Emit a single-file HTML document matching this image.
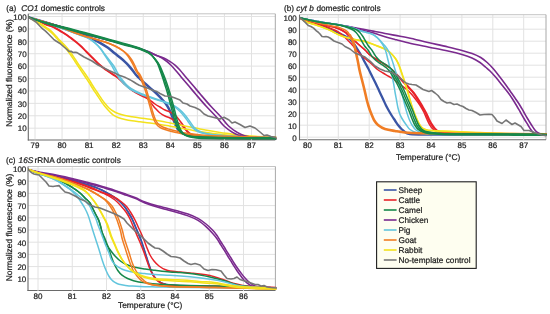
<!DOCTYPE html>
<html><head><meta charset="utf-8"><style>
html,body{margin:0;padding:0;background:#fff;width:550px;height:314px;overflow:hidden}
svg{display:block;text-rendering:geometricPrecision}
.g{stroke:#e2e2e2;stroke-width:1}
.ft{stroke:#c4c4c4;stroke-width:1}
.fr{stroke:#a8a8a8;stroke-width:1}
.ax{stroke:#6a6a6a;stroke-width:1.1}
text{font-family:'Liberation Sans', Arial, sans-serif;fill:#1e1e1e;stroke:#1e1e1e;stroke-width:0.22px}
.tk{font-size:8px}
.ti{font-size:8.25px}
.it{font-style:italic}
.yt{font-size:8.4px}
.tg{stroke:#d8d8d8;stroke-width:1}
</style></head><body>
<svg width="550" height="314" viewBox="0 0 550 314">
<defs><clipPath id="clipa"><rect x="28.3" y="10.8" width="248.0" height="129.2"/></clipPath><clipPath id="clipb"><rect x="299.5" y="11.7" width="247.5" height="127.99999999999999"/></clipPath><clipPath id="clipc"><rect x="28.0" y="163.5" width="248.39999999999998" height="127.0"/></clipPath></defs>
<line x1="35.00" y1="13.80" x2="35.00" y2="140.00" class="g"/>
<line x1="62.06" y1="13.80" x2="62.06" y2="140.00" class="g"/>
<line x1="89.12" y1="13.80" x2="89.12" y2="140.00" class="g"/>
<line x1="116.18" y1="13.80" x2="116.18" y2="140.00" class="g"/>
<line x1="143.24" y1="13.80" x2="143.24" y2="140.00" class="g"/>
<line x1="170.30" y1="13.80" x2="170.30" y2="140.00" class="g"/>
<line x1="197.36" y1="13.80" x2="197.36" y2="140.00" class="g"/>
<line x1="224.42" y1="13.80" x2="224.42" y2="140.00" class="g"/>
<line x1="251.48" y1="13.80" x2="251.48" y2="140.00" class="g"/>
<line x1="28.30" y1="128.19" x2="275.30" y2="128.19" class="g"/>
<line x1="28.30" y1="115.78" x2="275.30" y2="115.78" class="g"/>
<line x1="28.30" y1="103.37" x2="275.30" y2="103.37" class="g"/>
<line x1="28.30" y1="90.96" x2="275.30" y2="90.96" class="g"/>
<line x1="28.30" y1="78.55" x2="275.30" y2="78.55" class="g"/>
<line x1="28.30" y1="66.14" x2="275.30" y2="66.14" class="g"/>
<line x1="28.30" y1="53.73" x2="275.30" y2="53.73" class="g"/>
<line x1="28.30" y1="41.32" x2="275.30" y2="41.32" class="g"/>
<line x1="28.30" y1="28.91" x2="275.30" y2="28.91" class="g"/>
<line x1="28.30" y1="16.50" x2="275.30" y2="16.50" class="g"/>
<line x1="28.30" y1="13.80" x2="275.30" y2="13.80" class="ft"/>
<line x1="275.30" y1="13.80" x2="275.30" y2="140.00" class="fr"/>
<text x="26.60" y="131.49" class="tk" text-anchor="end">10</text>
<text x="26.60" y="119.08" class="tk" text-anchor="end">20</text>
<text x="26.60" y="106.67" class="tk" text-anchor="end">30</text>
<text x="26.60" y="94.26" class="tk" text-anchor="end">40</text>
<text x="26.60" y="81.85" class="tk" text-anchor="end">50</text>
<text x="26.60" y="69.44" class="tk" text-anchor="end">60</text>
<text x="26.60" y="57.03" class="tk" text-anchor="end">70</text>
<text x="26.60" y="44.62" class="tk" text-anchor="end">80</text>
<text x="26.60" y="32.21" class="tk" text-anchor="end">90</text>
<text x="26.60" y="19.80" class="tk" text-anchor="end">100</text>
<text x="35.00" y="148.30" class="tk" text-anchor="middle">79</text>
<text x="62.06" y="148.30" class="tk" text-anchor="middle">80</text>
<text x="89.12" y="148.30" class="tk" text-anchor="middle">81</text>
<text x="116.18" y="148.30" class="tk" text-anchor="middle">82</text>
<text x="143.24" y="148.30" class="tk" text-anchor="middle">83</text>
<text x="170.30" y="148.30" class="tk" text-anchor="middle">84</text>
<text x="197.36" y="148.30" class="tk" text-anchor="middle">85</text>
<text x="224.42" y="148.30" class="tk" text-anchor="middle">86</text>
<text x="251.48" y="148.30" class="tk" text-anchor="middle">87</text>
<g clip-path="url(#clipa)">
<path d="M28.50,17.30C37.67,20.13 46.83,22.82 56.00,25.80C64.00,28.40 72.00,31.09 80.00,34.00C84.00,35.45 88.00,36.81 92.00,38.60C94.67,39.79 97.33,41.28 100.00,42.80C102.67,44.32 105.33,45.91 108.00,47.80C110.33,49.45 112.67,51.62 115.00,53.50C116.67,54.84 118.33,56.12 120.00,57.50C121.67,58.88 123.33,60.25 125.00,61.80C126.00,62.73 127.00,63.71 128.00,64.80C129.00,65.89 130.00,67.16 131.00,68.40C131.93,69.56 132.87,70.79 133.80,72.00C134.57,72.99 135.33,74.12 136.10,75.00C137.57,76.68 139.03,78.00 140.50,79.40C142.30,81.12 144.10,82.71 145.90,84.30C147.37,85.60 148.83,86.85 150.30,88.10C151.37,89.01 152.43,89.86 153.50,90.80C154.67,91.82 155.83,92.85 157.00,94.00C158.00,94.99 159.00,96.13 160.00,97.20C161.33,98.63 162.67,99.90 164.00,101.50C165.00,102.70 166.00,103.96 167.00,105.50C168.00,107.04 169.00,108.86 170.00,111.00C170.67,112.42 171.33,114.33 172.00,116.00C172.67,117.67 173.33,119.33 174.00,121.00C174.67,122.67 175.33,124.63 176.00,126.00C176.67,127.37 177.33,128.64 178.00,129.50C179.00,130.80 180.00,131.91 181.00,132.50C182.67,133.49 184.33,134.09 186.00,134.50C189.00,135.23 192.00,135.66 195.00,136.00C201.67,136.75 208.33,137.41 215.00,137.60C235.33,138.17 255.67,138.20 276.00,138.50" fill="none" stroke="#3a55a5" stroke-width="2.5" stroke-linejoin="round" stroke-linecap="round"/>
<path d="M28.50,17.30C32.67,18.99 36.83,20.53 41.00,22.38C42.50,23.04 44.00,23.90 45.50,24.51C47.30,25.24 49.10,25.68 50.90,26.40C52.73,27.14 54.57,28.04 56.40,29.00C58.20,29.95 60.00,31.09 61.80,32.20C63.27,33.10 64.73,34.01 66.20,35.00C67.47,35.85 68.73,36.79 70.00,37.70C71.33,38.66 72.67,39.57 74.00,40.60C76.00,42.14 78.00,43.78 80.00,45.60C82.00,47.42 84.00,49.60 86.00,51.60C88.00,53.60 90.00,55.60 92.00,57.60C94.00,59.60 96.00,61.78 98.00,63.60C100.00,65.42 102.00,67.09 104.00,68.60C105.33,69.61 106.67,70.48 108.00,71.40C109.67,72.55 111.33,73.68 113.00,74.80C114.67,75.92 116.33,76.81 118.00,78.10C120.33,79.90 122.67,82.72 125.00,84.80C126.67,86.29 128.33,87.75 130.00,89.00C131.67,90.25 133.33,91.42 135.00,92.40C137.67,93.98 140.33,95.15 143.00,96.50C144.33,97.17 145.67,97.58 147.00,98.50C148.33,99.42 149.67,101.42 151.00,103.00C152.33,104.58 153.67,106.51 155.00,108.00C156.67,109.86 158.33,111.75 160.00,113.00C161.67,114.25 163.33,115.20 165.00,116.00C166.67,116.80 168.33,117.20 170.00,118.00C171.67,118.80 173.33,120.00 175.00,121.00C176.67,122.00 178.33,122.74 180.00,124.00C181.33,125.01 182.67,126.59 184.00,128.00C185.33,129.41 186.67,131.44 188.00,132.50C189.67,133.82 191.33,135.05 193.00,135.50C197.00,136.59 201.00,137.25 205.00,137.40C228.67,138.29 252.33,138.20 276.00,138.60" fill="none" stroke="#e8232a" stroke-width="1.5" stroke-linejoin="round" stroke-linecap="round"/>
<path d="M28.50,17.30C32.67,18.87 36.83,20.28 41.00,22.00C42.50,22.62 44.00,23.43 45.50,24.00C47.30,24.69 49.10,25.10 50.90,25.80C52.73,26.52 54.57,27.44 56.40,28.40C58.20,29.35 60.00,30.49 61.80,31.60C63.27,32.50 64.73,33.41 66.20,34.40C67.47,35.25 68.73,36.19 70.00,37.10C71.33,38.06 72.67,38.97 74.00,40.00C76.00,41.54 78.00,43.18 80.00,45.00C82.00,46.82 84.00,49.00 86.00,51.00C88.00,53.00 90.00,55.00 92.00,57.00C94.00,59.00 96.00,61.18 98.00,63.00C100.00,64.82 102.00,66.49 104.00,68.00C105.33,69.01 106.67,69.88 108.00,70.80C109.67,71.95 111.33,73.08 113.00,74.20C114.67,75.32 116.33,76.21 118.00,77.50C120.33,79.30 122.67,82.12 125.00,84.20C126.67,85.69 128.33,87.15 130.00,88.40C131.67,89.65 133.33,90.80 135.00,91.80C136.67,92.80 138.33,93.71 140.00,94.50C142.00,95.44 144.00,95.91 146.00,97.00C147.33,97.73 148.67,98.97 150.00,100.00C151.67,101.29 153.33,102.86 155.00,104.00C156.67,105.14 158.33,106.00 160.00,107.00C161.67,108.00 163.33,109.20 165.00,110.00C166.67,110.80 168.33,111.20 170.00,112.00C171.67,112.80 173.33,113.67 175.00,115.00C176.67,116.33 178.33,118.89 180.00,121.00C181.00,122.27 182.00,123.59 183.00,125.00C184.00,126.41 185.00,128.29 186.00,129.50C187.33,131.12 188.67,132.69 190.00,133.50C192.00,134.71 194.00,135.61 196.00,136.00C200.67,136.91 205.33,137.45 210.00,137.60C232.00,138.31 254.00,138.27 276.00,138.60" fill="none" stroke="#e8232a" stroke-width="1.5" stroke-linejoin="round" stroke-linecap="round"/>
<path d="M28.50,17.30C30.33,18.20 32.17,19.06 34.00,20.00C36.33,21.20 38.67,22.38 41.00,23.80C43.03,25.04 45.07,26.51 47.10,28.00C48.90,29.32 50.70,30.54 52.50,32.20C53.80,33.40 55.10,35.05 56.40,36.50C57.43,37.65 58.47,38.90 59.50,40.00C61.33,41.96 63.17,43.50 65.00,45.50C66.67,47.32 68.33,49.28 70.00,51.50C71.67,53.72 73.33,56.50 75.00,59.00C76.67,61.50 78.33,64.09 80.00,66.50C81.67,68.91 83.33,71.08 85.00,73.50C86.33,75.43 87.67,77.42 89.00,79.50C90.33,81.58 91.67,83.92 93.00,86.00C94.33,88.08 95.67,90.00 97.00,92.00C98.33,94.00 99.67,96.09 101.00,98.00C102.33,99.91 103.67,101.85 105.00,103.50C106.33,105.15 107.67,106.80 109.00,108.00C110.33,109.20 111.67,110.19 113.00,111.00C114.67,112.01 116.33,112.88 118.00,113.50C120.33,114.36 122.67,114.97 125.00,115.50C127.33,116.03 129.67,116.41 132.00,116.80C134.67,117.24 137.33,117.63 140.00,118.00C143.33,118.47 146.67,118.81 150.00,119.30C153.33,119.79 156.67,120.39 160.00,121.00C163.33,121.61 166.67,122.33 170.00,123.00C173.33,123.67 176.67,124.33 180.00,125.00C183.33,125.67 186.67,126.33 190.00,127.00C193.33,127.67 196.67,128.37 200.00,129.00C203.33,129.63 206.67,130.24 210.00,130.80C213.33,131.36 216.67,131.92 220.00,132.40C223.33,132.88 226.67,133.27 230.00,133.70C233.33,134.13 236.67,134.66 240.00,135.00C245.00,135.50 250.00,135.90 255.00,136.20C262.00,136.62 269.00,136.87 276.00,137.20" fill="none" stroke="#f3e21c" stroke-width="1.5" stroke-linejoin="round" stroke-linecap="round"/>
<path d="M28.50,17.30C30.33,18.40 32.17,19.50 34.00,20.60C36.33,22.00 38.67,23.27 41.00,24.80C43.03,26.13 45.07,27.64 47.10,29.20C48.90,30.58 50.70,31.88 52.50,33.60C53.80,34.84 55.10,36.54 56.40,38.00C57.60,39.34 58.80,40.67 60.00,42.00C61.67,43.84 63.33,45.51 65.00,47.50C66.67,49.49 68.33,51.68 70.00,54.00C71.67,56.32 73.33,59.00 75.00,61.50C76.67,64.00 78.33,66.50 80.00,69.00C81.67,71.50 83.33,74.00 85.00,76.50C86.33,78.50 87.67,80.42 89.00,82.50C90.33,84.58 91.67,86.92 93.00,89.00C94.33,91.08 95.67,93.00 97.00,95.00C98.33,97.00 99.67,99.09 101.00,101.00C102.33,102.91 103.67,104.85 105.00,106.50C106.33,108.15 107.67,109.63 109.00,111.00C110.33,112.37 111.67,113.87 113.00,114.80C114.67,115.96 116.33,116.87 118.00,117.50C120.33,118.39 122.67,118.97 125.00,119.50C127.33,120.03 129.67,120.45 132.00,120.80C134.67,121.20 137.33,121.47 140.00,121.80C143.33,122.21 146.67,122.57 150.00,123.00C153.33,123.43 156.67,123.88 160.00,124.40C163.33,124.93 166.67,125.60 170.00,126.20C173.33,126.80 176.67,127.40 180.00,128.00C183.33,128.60 186.67,129.20 190.00,129.80C193.33,130.40 196.67,131.07 200.00,131.60C203.33,132.12 206.67,132.57 210.00,133.00C213.33,133.43 216.67,133.82 220.00,134.20C223.33,134.58 226.67,134.95 230.00,135.30C233.33,135.65 236.67,136.08 240.00,136.30C245.00,136.63 250.00,136.82 255.00,137.00C262.00,137.25 269.00,137.40 276.00,137.60" fill="none" stroke="#f3e21c" stroke-width="1.5" stroke-linejoin="round" stroke-linecap="round"/>
<path d="M28.50,17.30C37.67,19.93 46.83,22.50 56.00,25.20C65.67,28.05 75.33,31.28 85.00,34.00C93.33,36.35 101.67,38.42 110.00,40.60C116.67,42.35 123.33,43.93 130.00,45.80C133.33,46.74 136.67,47.74 140.00,48.80C142.67,49.65 145.33,50.45 148.00,51.50C150.33,52.42 152.67,53.72 155.00,54.80C157.33,55.88 159.67,56.68 162.00,58.00C163.67,58.94 165.33,60.24 167.00,61.60C168.33,62.68 169.67,63.97 171.00,65.30C172.50,66.80 174.00,68.49 175.50,70.20C177.30,72.26 179.10,74.56 180.90,76.70C183.27,79.51 185.63,82.21 188.00,85.00C190.67,88.14 193.33,91.38 196.00,94.50C199.33,98.40 202.67,102.34 206.00,106.00C209.33,109.66 212.67,112.78 216.00,116.50C218.67,119.48 221.33,123.55 224.00,126.00C226.67,128.45 229.33,130.45 232.00,132.00C234.67,133.55 237.33,135.12 240.00,135.80C243.33,136.65 246.67,137.15 250.00,137.50C254.00,137.92 258.00,138.30 262.00,138.40C266.67,138.51 271.33,138.53 276.00,138.60" fill="none" stroke="#7a2a8e" stroke-width="1.6" stroke-linejoin="round" stroke-linecap="round"/>
<path d="M28.50,17.30C37.67,19.93 46.83,22.50 56.00,25.20C65.67,28.05 75.33,31.28 85.00,34.00C93.33,36.35 101.67,38.42 110.00,40.60C116.67,42.35 123.33,43.93 130.00,45.80C133.33,46.74 136.67,47.74 140.00,48.80C142.67,49.65 145.33,50.45 148.00,51.50C150.33,52.42 152.67,53.83 155.00,54.80C157.91,56.01 160.82,56.70 163.72,58.00C165.87,58.96 168.02,60.24 170.16,61.60C171.88,62.68 173.60,63.85 175.31,65.30C176.91,66.65 178.50,68.44 180.10,70.20C181.90,72.19 183.70,74.56 185.50,76.70C187.87,79.51 190.23,82.21 192.60,85.00C195.27,88.14 197.93,91.38 200.60,94.50C203.93,98.40 207.27,102.34 210.60,106.00C213.93,109.66 217.27,112.78 220.60,116.50C223.27,119.48 225.93,123.55 228.60,126.00C231.27,128.45 233.93,130.45 236.60,132.00C239.27,133.55 241.93,135.12 244.60,135.80C247.93,136.65 251.27,137.15 254.60,137.50C258.60,137.92 262.60,138.30 266.60,138.40C271.27,138.51 275.93,138.53 280.60,138.60" fill="none" stroke="#7a2a8e" stroke-width="1.6" stroke-linejoin="round" stroke-linecap="round"/>
<path d="M28.50,17.30C37.67,20.27 46.83,23.04 56.00,26.20C64.00,28.95 72.00,31.97 80.00,35.00C83.00,36.14 86.00,36.93 89.00,38.50C91.00,39.55 93.00,41.28 95.00,43.00C96.67,44.43 98.33,46.11 100.00,48.00C101.53,49.74 103.07,52.00 104.60,54.00C106.13,56.00 107.67,58.00 109.20,60.00C110.73,62.00 112.27,63.63 113.80,66.00C114.80,67.54 115.80,69.75 116.80,71.50C117.80,73.25 118.80,75.02 119.80,76.50C120.80,77.98 121.80,79.27 122.80,80.50C124.13,82.13 125.47,83.75 126.80,85.00C128.47,86.57 130.13,87.93 131.80,89.00C133.47,90.07 135.13,90.91 136.80,91.70C140.13,93.28 143.47,94.54 146.80,95.80C150.13,97.06 153.47,98.19 156.80,99.30C160.13,100.41 163.47,101.30 166.80,102.50C168.47,103.10 170.13,103.71 171.80,104.50C173.80,105.44 175.80,106.58 177.80,108.00C179.13,108.95 180.47,110.19 181.80,111.50C183.13,112.81 184.47,114.35 185.80,116.00C187.13,117.65 188.47,119.67 189.80,121.50C191.13,123.33 192.47,125.57 193.80,127.00C195.13,128.43 196.47,129.73 197.80,130.50C199.80,131.66 201.80,132.48 203.80,133.00C207.13,133.87 210.47,134.42 213.80,134.80C219.80,135.48 225.80,135.92 231.80,136.20C247.13,136.92 262.47,137.13 277.80,137.60" fill="none" stroke="#62c5dd" stroke-width="1.5" stroke-linejoin="round" stroke-linecap="round"/>
<path d="M28.50,17.30C37.67,20.27 46.83,23.04 56.00,26.20C64.00,28.95 72.00,31.97 80.00,35.00C83.00,36.14 86.00,36.93 89.00,38.50C91.00,39.55 93.00,41.28 95.00,43.00C96.67,44.43 98.33,45.99 100.00,48.00C101.33,49.61 102.67,52.00 104.00,54.00C105.33,56.00 106.67,58.00 108.00,60.00C109.33,62.00 110.67,63.79 112.00,66.00C113.00,67.66 114.00,69.75 115.00,71.50C116.00,73.25 117.00,75.02 118.00,76.50C119.00,77.98 120.00,79.27 121.00,80.50C122.33,82.13 123.67,83.75 125.00,85.00C126.67,86.57 128.33,87.93 130.00,89.00C131.67,90.07 133.33,90.91 135.00,91.70C138.33,93.28 141.67,94.54 145.00,95.80C148.33,97.06 151.67,98.19 155.00,99.30C158.33,100.41 161.67,101.30 165.00,102.50C166.67,103.10 168.33,103.71 170.00,104.50C172.00,105.44 174.00,106.58 176.00,108.00C177.33,108.95 178.67,110.19 180.00,111.50C181.33,112.81 182.67,114.35 184.00,116.00C185.33,117.65 186.67,119.67 188.00,121.50C189.33,123.33 190.67,125.57 192.00,127.00C193.33,128.43 194.67,129.73 196.00,130.50C198.00,131.66 200.00,132.48 202.00,133.00C205.33,133.87 208.67,134.42 212.00,134.80C218.00,135.48 224.00,135.92 230.00,136.20C245.33,136.92 260.67,137.13 276.00,137.60" fill="none" stroke="#62c5dd" stroke-width="1.5" stroke-linejoin="round" stroke-linecap="round"/>
<path d="M28.50,17.30C37.67,20.07 46.83,22.56 56.00,25.60C65.67,28.81 75.33,33.36 85.00,36.30C88.33,37.31 91.67,38.05 95.00,39.00C98.33,39.95 101.67,40.86 105.00,42.00C108.33,43.14 111.67,44.41 115.00,46.00C117.85,47.36 120.69,48.94 123.54,51.00C125.20,52.20 126.87,53.66 128.53,55.50C129.62,56.71 130.71,58.28 131.80,60.00C132.80,61.58 133.80,63.49 134.80,65.50C135.63,67.17 136.47,69.55 137.30,71.00C138.23,72.62 139.17,73.43 140.10,75.00C140.83,76.23 141.57,77.78 142.30,79.40C143.03,81.02 143.77,82.91 144.50,84.80C145.23,86.69 145.97,88.62 146.70,90.80C147.23,92.39 147.77,94.20 148.30,96.00C148.97,98.24 149.63,100.59 150.30,103.00C150.97,105.41 151.63,108.20 152.30,110.45C152.97,112.71 153.63,114.87 154.30,116.66C154.97,118.44 155.63,120.28 156.30,121.36C157.30,122.96 158.30,124.10 159.30,124.91C160.63,125.98 161.97,126.72 163.30,127.30C165.30,128.17 167.30,128.72 169.30,129.30C171.97,130.07 174.63,130.70 177.30,131.30C180.63,132.04 183.97,132.79 187.30,133.30C191.97,134.01 196.63,134.64 201.30,135.00C207.97,135.52 214.63,135.88 221.30,136.10C239.97,136.72 258.63,136.90 277.30,137.30" fill="none" stroke="#f07d24" stroke-width="1.5" stroke-linejoin="round" stroke-linecap="round"/>
<path d="M28.50,17.30C37.67,20.07 46.83,22.56 56.00,25.60C65.67,28.81 75.33,33.36 85.00,36.30C88.33,37.31 91.67,38.05 95.00,39.00C98.33,39.95 101.67,40.86 105.00,42.00C108.33,43.14 111.67,44.36 115.00,46.00C117.67,47.31 120.33,48.90 123.00,51.00C124.50,52.18 126.00,53.68 127.50,55.50C128.50,56.72 129.50,58.35 130.50,60.00C131.50,61.65 132.50,63.49 133.50,65.50C134.33,67.17 135.17,69.55 136.00,71.00C136.93,72.62 137.87,73.43 138.80,75.00C139.53,76.23 140.27,77.78 141.00,79.40C141.73,81.02 142.47,82.91 143.20,84.80C143.93,86.69 144.67,88.62 145.40,90.80C145.93,92.39 146.47,94.20 147.00,96.00C147.67,98.24 148.33,100.59 149.00,103.00C149.67,105.41 150.33,108.18 151.00,110.50C151.67,112.82 152.33,115.12 153.00,117.00C153.67,118.88 154.33,120.82 155.00,122.00C156.00,123.78 157.00,125.13 158.00,126.00C159.33,127.15 160.67,127.91 162.00,128.50C164.00,129.39 166.00,129.92 168.00,130.50C170.67,131.27 173.33,131.90 176.00,132.50C179.33,133.24 182.67,133.99 186.00,134.50C190.67,135.21 195.33,135.84 200.00,136.20C206.67,136.72 213.33,137.08 220.00,137.30C238.67,137.92 257.33,138.10 276.00,138.50" fill="none" stroke="#f07d24" stroke-width="1.5" stroke-linejoin="round" stroke-linecap="round"/>
<path d="M28.50,17.30C34.44,19.35 40.39,21.63 46.33,23.44C53.09,25.51 59.84,27.17 66.60,29.00C71.60,30.35 76.60,31.65 81.60,33.00C86.27,34.26 90.93,35.51 95.60,36.80C100.60,38.18 105.60,39.60 110.60,41.00C117.27,42.87 123.93,44.66 130.60,46.60C133.93,47.57 137.27,48.43 140.60,49.60C141.93,50.07 143.27,50.63 144.60,51.20C145.70,51.67 146.80,52.10 147.90,52.70C149.13,53.38 150.37,54.24 151.60,55.30C152.90,56.42 154.21,58.02 155.51,59.60C156.79,61.15 158.07,62.61 159.34,64.80C160.30,66.44 161.26,69.02 162.22,71.30C163.28,73.83 164.35,76.43 165.41,79.30C166.27,81.63 167.14,84.17 168.00,86.80C168.83,89.33 169.67,91.91 170.50,94.80C171.17,97.11 171.83,99.80 172.50,102.30C173.17,104.80 173.83,107.22 174.50,109.80C175.17,112.38 175.83,115.31 176.50,117.80C177.17,120.29 177.83,122.99 178.50,124.80C179.50,127.52 180.50,129.91 181.50,131.30C182.83,133.16 184.17,134.61 185.50,135.30C187.50,136.33 189.50,136.95 191.50,137.30C194.83,137.88 198.17,138.23 201.50,138.40C208.17,138.74 214.83,138.91 221.50,139.00C240.17,139.24 258.83,139.27 277.50,139.40" fill="none" stroke="#16884a" stroke-width="1.5" stroke-linejoin="round" stroke-linecap="round"/>
<path d="M28.50,17.30C34.22,19.05 39.94,20.99 45.67,22.56C52.24,24.35 58.82,25.72 65.40,27.40C70.40,28.68 75.40,30.05 80.40,31.40C85.07,32.66 89.73,33.91 94.40,35.20C99.40,36.58 104.40,38.00 109.40,39.40C116.07,41.27 122.73,43.06 129.40,45.00C132.73,45.97 136.07,46.83 139.40,48.00C140.73,48.47 142.07,49.03 143.40,49.60C144.50,50.07 145.60,50.50 146.70,51.10C147.93,51.78 149.17,52.60 150.40,53.70C151.59,54.76 152.78,56.39 153.97,58.00C155.09,59.52 156.21,61.01 157.33,63.20C158.18,64.84 159.02,67.42 159.86,69.70C160.80,72.23 161.73,74.87 162.67,77.70C163.45,80.06 164.23,82.70 165.01,85.20C165.84,87.87 166.67,90.32 167.50,93.20C168.17,95.51 168.83,98.20 169.50,100.70C170.17,103.20 170.83,105.62 171.50,108.20C172.17,110.78 172.83,113.71 173.50,116.20C174.17,118.69 174.83,121.39 175.50,123.20C176.50,125.92 177.50,128.31 178.50,129.70C179.83,131.56 181.17,133.01 182.50,133.70C184.50,134.73 186.50,135.35 188.50,135.70C191.83,136.28 195.17,136.63 198.50,136.80C205.17,137.14 211.83,137.31 218.50,137.40C237.17,137.64 255.83,137.67 274.50,137.80" fill="none" stroke="#16884a" stroke-width="1.5" stroke-linejoin="round" stroke-linecap="round"/>
<path d="M28.50,17.30C34.33,19.20 40.17,21.31 46.00,23.00C52.67,24.93 59.33,26.44 66.00,28.20C71.00,29.52 76.00,30.85 81.00,32.20C85.67,33.46 90.33,34.71 95.00,36.00C100.00,37.38 105.00,38.80 110.00,40.20C116.67,42.07 123.33,43.86 130.00,45.80C133.33,46.77 136.67,47.63 140.00,48.80C141.33,49.27 142.67,49.83 144.00,50.40C145.10,50.87 146.20,51.30 147.30,51.90C148.53,52.58 149.77,53.42 151.00,54.50C152.23,55.58 153.47,57.21 154.70,58.80C155.90,60.35 157.10,61.81 158.30,64.00C159.20,65.64 160.10,68.22 161.00,70.50C162.00,73.03 163.00,75.67 164.00,78.50C164.83,80.86 165.67,83.42 166.50,86.00C167.33,88.58 168.17,91.11 169.00,94.00C169.67,96.31 170.33,99.00 171.00,101.50C171.67,104.00 172.33,106.42 173.00,109.00C173.67,111.58 174.33,114.51 175.00,117.00C175.67,119.49 176.33,122.19 177.00,124.00C178.00,126.72 179.00,129.11 180.00,130.50C181.33,132.36 182.67,133.81 184.00,134.50C186.00,135.53 188.00,136.15 190.00,136.50C193.33,137.08 196.67,137.43 200.00,137.60C206.67,137.94 213.33,138.11 220.00,138.20C238.67,138.44 257.33,138.47 276.00,138.60" fill="none" stroke="#16884a" stroke-width="1.5" stroke-linejoin="round" stroke-linecap="round"/>
<path d="M28.50,17.30 L33.00,20.00 L36.00,22.00 L40.00,26.20 L42.70,28.90 L45.50,31.10 L48.20,33.80 L50.90,36.50 L53.60,39.30 L56.00,41.00 L60.00,43.50 L64.00,47.00 L67.00,49.50 L69.00,51.50 L71.00,51.30 L73.00,52.50 L75.00,52.20 L77.00,52.60 L80.00,54.50 L84.00,57.00 L88.00,59.00 L92.00,61.00 L95.00,63.00 L98.00,65.00 L102.00,67.00 L106.00,69.00 L109.00,70.50 L114.00,72.80 L120.00,75.60 L125.60,77.60 L128.40,79.00 L131.10,80.40 L133.80,82.00 L136.50,83.70 L139.30,85.30 L142.00,86.20 L145.00,87.20 L148.60,88.60 L151.40,89.70 L154.10,90.80 L157.00,91.60 L160.00,93.50 L165.00,96.00 L170.00,96.20 L175.00,98.00 L180.00,100.00 L183.00,103.00 L187.00,104.00 L190.00,106.00 L195.00,107.50 L200.00,110.00 L204.00,114.00 L208.00,116.00 L212.00,117.00 L216.00,118.00 L220.00,119.00 L224.00,117.30 L229.00,120.00 L232.00,123.00 L235.00,122.00 L240.00,124.50 L245.00,127.50 L250.00,126.00 L255.00,128.00 L260.00,132.00 L264.00,135.50 L267.00,135.00 L271.00,136.50 L276.00,137.60" fill="none" stroke="#767676" stroke-width="1.6" stroke-linejoin="round" stroke-linecap="round"/>
</g>
<line x1="28.30" y1="13.80" x2="28.30" y2="140.50" class="ax"/>
<line x1="27.80" y1="140.00" x2="275.30" y2="140.00" class="ax"/>
<line x1="35.00" y1="139.40" x2="35.00" y2="140.60" class="tg"/>
<line x1="62.06" y1="139.40" x2="62.06" y2="140.60" class="tg"/>
<line x1="89.12" y1="139.40" x2="89.12" y2="140.60" class="tg"/>
<line x1="116.18" y1="139.40" x2="116.18" y2="140.60" class="tg"/>
<line x1="143.24" y1="139.40" x2="143.24" y2="140.60" class="tg"/>
<line x1="170.30" y1="139.40" x2="170.30" y2="140.60" class="tg"/>
<line x1="197.36" y1="139.40" x2="197.36" y2="140.60" class="tg"/>
<line x1="224.42" y1="139.40" x2="224.42" y2="140.60" class="tg"/>
<line x1="251.48" y1="139.40" x2="251.48" y2="140.60" class="tg"/>
<line x1="307.40" y1="14.70" x2="307.40" y2="139.70" class="g"/>
<line x1="338.30" y1="14.70" x2="338.30" y2="139.70" class="g"/>
<line x1="369.20" y1="14.70" x2="369.20" y2="139.70" class="g"/>
<line x1="400.10" y1="14.70" x2="400.10" y2="139.70" class="g"/>
<line x1="431.00" y1="14.70" x2="431.00" y2="139.70" class="g"/>
<line x1="461.90" y1="14.70" x2="461.90" y2="139.70" class="g"/>
<line x1="492.80" y1="14.70" x2="492.80" y2="139.70" class="g"/>
<line x1="523.70" y1="14.70" x2="523.70" y2="139.70" class="g"/>
<line x1="299.50" y1="137.20" x2="546.00" y2="137.20" class="g"/>
<line x1="299.50" y1="125.20" x2="546.00" y2="125.20" class="g"/>
<line x1="299.50" y1="113.20" x2="546.00" y2="113.20" class="g"/>
<line x1="299.50" y1="101.20" x2="546.00" y2="101.20" class="g"/>
<line x1="299.50" y1="89.20" x2="546.00" y2="89.20" class="g"/>
<line x1="299.50" y1="77.20" x2="546.00" y2="77.20" class="g"/>
<line x1="299.50" y1="65.20" x2="546.00" y2="65.20" class="g"/>
<line x1="299.50" y1="53.20" x2="546.00" y2="53.20" class="g"/>
<line x1="299.50" y1="41.20" x2="546.00" y2="41.20" class="g"/>
<line x1="299.50" y1="29.20" x2="546.00" y2="29.20" class="g"/>
<line x1="299.50" y1="17.20" x2="546.00" y2="17.20" class="g"/>
<line x1="299.50" y1="14.70" x2="546.00" y2="14.70" class="ft"/>
<line x1="546.00" y1="14.70" x2="546.00" y2="139.70" class="fr"/>
<text x="296.80" y="140.50" class="tk" text-anchor="end">0</text>
<text x="296.80" y="128.50" class="tk" text-anchor="end">10</text>
<text x="296.80" y="116.50" class="tk" text-anchor="end">20</text>
<text x="296.80" y="104.50" class="tk" text-anchor="end">30</text>
<text x="296.80" y="92.50" class="tk" text-anchor="end">40</text>
<text x="296.80" y="80.50" class="tk" text-anchor="end">50</text>
<text x="296.80" y="68.50" class="tk" text-anchor="end">60</text>
<text x="296.80" y="56.50" class="tk" text-anchor="end">70</text>
<text x="296.80" y="44.50" class="tk" text-anchor="end">80</text>
<text x="296.80" y="32.50" class="tk" text-anchor="end">90</text>
<text x="296.80" y="20.50" class="tk" text-anchor="end">100</text>
<text x="307.40" y="148.00" class="tk" text-anchor="middle">80</text>
<text x="338.30" y="148.00" class="tk" text-anchor="middle">81</text>
<text x="369.20" y="148.00" class="tk" text-anchor="middle">82</text>
<text x="400.10" y="148.00" class="tk" text-anchor="middle">83</text>
<text x="431.00" y="148.00" class="tk" text-anchor="middle">84</text>
<text x="461.90" y="148.00" class="tk" text-anchor="middle">85</text>
<text x="492.80" y="148.00" class="tk" text-anchor="middle">86</text>
<text x="523.70" y="148.00" class="tk" text-anchor="middle">87</text>
<g clip-path="url(#clipb)">
<path d="M300.20,18.00C306.80,20.33 313.40,22.43 320.00,25.00C326.00,27.34 332.00,30.00 338.00,32.80C341.33,34.36 344.67,35.55 348.00,37.80C349.67,38.93 351.33,40.56 353.00,42.50C354.33,44.05 355.67,46.42 357.00,48.50C358.33,50.58 359.67,52.68 361.00,55.00C362.33,57.32 363.67,60.03 365.00,62.50C366.00,64.35 367.00,66.09 368.00,68.00C369.00,69.91 370.00,72.00 371.00,74.00C372.33,76.67 373.67,79.25 375.00,82.00C376.33,84.75 377.67,87.67 379.00,90.50C380.33,93.33 381.67,96.14 383.00,99.00C384.00,101.15 385.00,103.51 386.00,105.50C387.00,107.49 388.00,109.25 389.00,111.00C390.00,112.75 391.00,114.42 392.00,116.00C393.00,117.58 394.00,119.00 395.00,120.50C396.00,122.00 397.00,123.71 398.00,125.00C399.33,126.73 400.67,128.28 402.00,129.50C403.67,131.02 405.33,132.73 407.00,133.30C408.67,133.87 410.33,134.34 412.00,134.40C416.33,134.54 420.67,134.60 425.00,134.60C465.33,134.60 505.67,134.60 546.00,134.60" fill="none" stroke="#3a55a5" stroke-width="2.3" stroke-linejoin="round" stroke-linecap="round"/>
<path d="M300.20,18.00C301.80,19.10 303.40,20.68 305.00,21.30C308.33,22.59 311.67,22.98 315.00,23.80C318.33,24.62 321.67,25.19 325.00,26.20C327.73,27.03 330.47,28.27 333.20,29.50C335.00,30.31 336.80,31.07 338.60,32.20C339.53,32.78 340.47,33.63 341.40,34.40C342.60,35.38 343.80,36.39 345.00,37.50C346.00,38.43 347.00,39.50 348.00,40.50C349.00,41.50 350.00,42.42 351.00,43.50C352.00,44.58 353.00,45.83 354.00,47.00C355.00,48.17 356.00,49.35 357.00,50.50C358.33,52.03 359.67,53.69 361.00,55.00C362.33,56.31 363.67,57.38 365.00,58.50C366.67,59.90 368.33,61.05 370.00,62.50C371.33,63.66 372.67,65.06 374.00,66.30C375.17,67.39 376.33,68.61 377.50,69.50C379.33,70.89 381.17,71.88 383.00,73.00C385.00,74.22 387.00,75.29 389.00,76.50C390.59,77.46 392.17,78.34 393.76,79.50C394.93,80.36 396.11,81.59 397.28,82.50C398.45,83.41 399.63,84.15 400.80,85.00C402.80,86.46 404.80,87.78 406.80,89.50C408.47,90.93 410.13,92.64 411.80,94.50C413.13,95.99 414.47,97.75 415.80,99.50C417.13,101.25 418.47,102.95 419.80,105.00C421.13,107.05 422.47,109.32 423.80,112.00C424.80,114.01 425.80,116.85 426.80,119.00C427.80,121.15 428.80,123.40 429.80,125.00C430.80,126.60 431.80,128.22 432.80,129.00C434.47,130.29 436.13,131.16 437.80,131.60C440.13,132.22 442.47,132.57 444.80,132.80C447.80,133.09 450.80,133.35 453.80,133.40C484.13,133.87 514.47,133.80 544.80,134.00" fill="none" stroke="#e8232a" stroke-width="1.5" stroke-linejoin="round" stroke-linecap="round"/>
<path d="M300.20,18.00C301.80,19.00 303.40,20.45 305.00,21.00C308.33,22.15 311.67,22.52 315.00,23.20C318.33,23.88 321.67,24.38 325.00,25.10C328.63,25.88 332.27,26.66 335.90,27.80C337.73,28.38 339.57,29.10 341.40,30.00C342.83,30.71 344.27,31.58 345.70,32.70C346.63,33.43 347.57,34.68 348.50,35.50C350.00,36.83 351.50,37.68 353.00,39.00C354.33,40.17 355.67,41.76 357.00,43.00C358.33,44.24 359.67,45.33 361.00,46.50C362.33,47.67 363.67,48.76 365.00,50.00C366.67,51.55 368.33,53.63 370.00,55.00C371.67,56.37 373.33,57.42 375.00,58.50C376.67,59.58 378.33,60.50 380.00,61.50C381.67,62.50 383.33,63.42 385.00,64.50C386.67,65.58 388.33,66.70 390.00,68.00C391.33,69.04 392.67,70.24 394.00,71.50C395.45,72.87 396.91,74.44 398.36,76.00C399.85,77.60 401.35,79.40 402.84,81.00C404.96,83.27 407.08,85.25 409.20,87.50C410.87,89.27 412.53,90.87 414.20,93.00C415.53,94.70 416.87,96.92 418.20,99.00C419.53,101.08 420.87,103.25 422.20,105.50C423.53,107.75 424.87,109.91 426.20,112.50C427.20,114.45 428.20,117.01 429.20,119.00C430.20,120.99 431.20,122.96 432.20,124.50C433.20,126.04 434.20,127.53 435.20,128.50C436.53,129.80 437.87,131.03 439.20,131.50C441.20,132.20 443.20,132.61 445.20,132.80C448.87,133.14 452.53,133.35 456.20,133.40C486.53,133.85 516.87,133.80 547.20,134.00" fill="none" stroke="#e8232a" stroke-width="1.5" stroke-linejoin="round" stroke-linecap="round"/>
<path d="M300.20,18.00C301.80,19.00 303.40,20.45 305.00,21.00C308.33,22.15 311.67,22.52 315.00,23.20C318.33,23.88 321.67,24.38 325.00,25.10C328.63,25.88 332.27,26.66 335.90,27.80C337.73,28.38 339.57,29.10 341.40,30.00C342.83,30.71 344.27,31.58 345.70,32.70C346.63,33.43 347.57,34.68 348.50,35.50C350.00,36.83 351.50,37.68 353.00,39.00C354.33,40.17 355.67,41.76 357.00,43.00C358.33,44.24 359.67,45.33 361.00,46.50C362.33,47.67 363.67,48.76 365.00,50.00C366.67,51.55 368.33,53.63 370.00,55.00C371.67,56.37 373.33,57.42 375.00,58.50C376.67,59.58 378.33,60.50 380.00,61.50C381.67,62.50 383.33,63.42 385.00,64.50C386.67,65.58 388.33,66.70 390.00,68.00C391.33,69.04 392.67,70.20 394.00,71.50C395.35,72.82 396.71,74.42 398.06,76.00C399.42,77.58 400.78,79.44 402.14,81.00C404.16,83.32 406.18,85.31 408.20,87.50C409.87,89.31 411.53,90.87 413.20,93.00C414.53,94.70 415.87,96.92 417.20,99.00C418.53,101.08 419.87,103.25 421.20,105.50C422.53,107.75 423.87,109.91 425.20,112.50C426.20,114.45 427.20,117.01 428.20,119.00C429.20,120.99 430.20,122.96 431.20,124.50C432.20,126.04 433.20,127.53 434.20,128.50C435.53,129.80 436.87,131.03 438.20,131.50C440.20,132.20 442.20,132.61 444.20,132.80C447.87,133.14 451.53,133.35 455.20,133.40C485.53,133.85 515.87,133.80 546.20,134.00" fill="none" stroke="#e8232a" stroke-width="1.5" stroke-linejoin="round" stroke-linecap="round"/>
<path d="M300.20,18.00C301.97,19.17 303.73,20.70 305.50,21.50C308.67,22.93 311.83,23.53 315.00,24.60C318.33,25.73 321.67,26.79 325.00,28.10C326.83,28.82 328.67,29.63 330.50,30.50C332.30,31.35 334.10,32.42 335.90,33.30C337.27,33.97 338.63,34.66 340.00,35.20C342.00,35.98 344.00,36.59 346.00,37.20C347.67,37.71 349.33,38.21 351.00,38.60C352.33,38.91 353.67,39.14 355.00,39.40C358.33,40.05 361.67,40.46 365.00,41.30C368.33,42.14 371.67,43.74 375.00,45.00C377.00,45.75 379.00,46.46 381.00,47.30C382.67,48.00 384.33,48.65 386.00,49.60C387.33,50.36 388.67,51.37 390.00,52.50C391.00,53.35 392.00,54.36 393.00,55.50C394.00,56.64 395.00,57.89 396.00,59.50C396.83,60.84 397.67,62.56 398.50,64.50C399.17,66.05 399.83,68.09 400.50,70.00C401.17,71.91 401.83,74.00 402.50,76.00C403.33,78.50 404.17,80.90 405.00,83.50C405.67,85.58 406.33,87.75 407.00,90.00C407.67,92.25 408.33,94.67 409.00,97.00C409.67,99.33 410.33,101.85 411.00,104.00C411.67,106.15 412.33,108.14 413.00,110.00C413.83,112.33 414.67,114.51 415.50,116.50C416.33,118.49 417.17,120.38 418.00,122.00C418.67,123.29 419.33,124.64 420.00,125.50C421.00,126.80 422.00,127.97 423.00,128.50C424.67,129.38 426.33,130.02 428.00,130.20C432.00,130.64 436.00,130.71 440.00,130.90C446.67,131.22 453.33,131.43 460.00,131.70C466.67,131.97 473.33,132.25 480.00,132.50C486.67,132.75 493.33,132.98 500.00,133.20C506.67,133.42 513.33,133.64 520.00,133.80C528.67,134.01 537.33,134.13 546.00,134.30" fill="none" stroke="#f3e21c" stroke-width="1.5" stroke-linejoin="round" stroke-linecap="round"/>
<path d="M300.70,18.40C302.47,19.57 304.23,21.10 306.00,21.90C309.17,23.33 312.33,23.93 315.50,25.00C318.83,26.13 322.17,27.19 325.50,28.50C327.33,29.22 329.17,30.03 331.00,30.90C332.80,31.75 334.60,32.82 336.40,33.70C337.77,34.37 339.13,35.06 340.50,35.60C342.50,36.38 344.50,36.99 346.50,37.60C348.17,38.11 349.83,38.61 351.50,39.00C352.83,39.31 354.17,39.54 355.50,39.80C358.83,40.45 362.17,40.86 365.50,41.70C368.83,42.54 372.17,44.14 375.50,45.40C377.50,46.15 379.50,46.86 381.50,47.70C383.17,48.40 384.83,49.05 386.50,50.00C387.83,50.76 389.17,51.77 390.50,52.90C391.50,53.75 392.50,54.76 393.50,55.90C394.50,57.04 395.50,58.29 396.50,59.90C397.33,61.24 398.17,62.96 399.00,64.90C399.67,66.45 400.33,68.49 401.00,70.40C401.67,72.31 402.33,74.40 403.00,76.40C403.83,78.90 404.67,81.30 405.50,83.90C406.17,85.98 406.83,88.15 407.50,90.40C408.17,92.65 408.83,95.07 409.50,97.40C410.17,99.73 410.83,102.25 411.50,104.40C412.17,106.55 412.83,108.54 413.50,110.40C414.33,112.73 415.17,114.91 416.00,116.90C416.83,118.89 417.67,120.78 418.50,122.40C419.17,123.69 419.83,125.04 420.50,125.90C421.50,127.20 422.50,128.37 423.50,128.90C425.17,129.78 426.83,130.42 428.50,130.60C432.50,131.04 436.50,131.11 440.50,131.30C447.17,131.62 453.83,131.83 460.50,132.10C467.17,132.37 473.83,132.65 480.50,132.90C487.17,133.15 493.83,133.38 500.50,133.60C507.17,133.82 513.83,134.04 520.50,134.20C529.17,134.41 537.83,134.53 546.50,134.70" fill="none" stroke="#f3e21c" stroke-width="1.5" stroke-linejoin="round" stroke-linecap="round"/>
<path d="M300.20,18.00C303.47,18.70 306.73,19.47 310.00,20.10C315.00,21.07 320.00,21.91 325.00,22.70C328.67,23.28 332.33,23.69 336.00,24.30C339.00,24.80 342.00,25.40 345.00,26.00C347.33,26.47 349.67,26.93 352.00,27.50C355.27,28.29 358.53,29.52 361.80,30.30C364.53,30.95 367.27,31.32 370.00,32.00C371.67,32.41 373.33,32.98 375.00,33.50C378.33,34.54 381.67,35.81 385.00,36.80C388.33,37.79 391.67,38.63 395.00,39.50C399.33,40.64 403.67,41.80 408.00,42.80C414.67,44.34 421.33,45.63 428.00,47.00C434.67,48.37 441.33,49.51 448.00,51.00C452.67,52.04 457.33,53.13 462.00,54.50C465.33,55.48 468.67,56.55 472.00,58.00C474.67,59.16 477.33,60.69 480.00,62.50C482.00,63.86 484.00,65.79 486.00,67.50C487.33,68.64 488.67,69.72 490.00,71.00C492.00,72.92 494.00,75.18 496.00,77.50C498.00,79.82 500.00,82.50 502.00,85.00C504.00,87.50 506.00,89.81 508.00,92.50C509.50,94.52 511.00,96.70 512.50,99.00C513.83,101.04 515.17,103.27 516.50,105.50C517.67,107.45 518.83,109.48 520.00,111.50C521.33,113.81 522.67,116.25 524.00,118.50C525.33,120.75 526.67,122.85 528.00,125.00C529.00,126.61 530.00,128.52 531.00,129.80C532.00,131.08 533.00,132.46 534.00,133.00C535.33,133.72 536.67,134.27 538.00,134.40C540.67,134.65 543.33,134.67 546.00,134.80" fill="none" stroke="#7a2a8e" stroke-width="1.6" stroke-linejoin="round" stroke-linecap="round"/>
<path d="M300.20,18.00C303.47,18.70 306.73,19.47 310.00,20.10C315.00,21.07 320.00,21.91 325.00,22.70C328.67,23.28 332.33,23.69 336.00,24.30C339.00,24.80 342.00,25.45 345.00,26.00C348.80,26.69 352.60,27.28 356.40,28.00C358.20,28.34 360.00,28.76 361.80,29.10C364.53,29.61 367.27,29.99 370.00,30.50C371.67,30.81 373.33,31.17 375.00,31.50C378.33,32.17 381.67,32.87 385.00,33.50C390.00,34.45 395.00,35.25 400.00,36.20C402.67,36.71 405.33,37.23 408.00,37.80C414.67,39.22 421.33,40.97 428.00,42.50C434.67,44.03 441.33,45.42 448.00,47.00C452.67,48.11 457.33,49.23 462.00,50.50C465.38,51.42 468.77,52.27 472.15,53.50C475.02,54.54 477.88,55.81 480.75,57.50C482.90,58.77 485.05,60.60 487.20,62.50C489.30,64.36 491.40,66.62 493.50,69.00C495.50,71.26 497.50,73.92 499.50,76.50C501.50,79.08 503.50,81.75 505.50,84.50C507.50,87.25 509.50,90.14 511.50,93.00C513.00,95.15 514.50,97.29 516.00,99.50C517.33,101.46 518.67,103.36 520.00,105.50C521.17,107.37 522.33,109.48 523.50,111.50C524.83,113.81 526.17,116.25 527.50,118.50C528.83,120.75 530.17,122.92 531.50,125.00C532.50,126.56 533.50,128.30 534.50,129.50C535.50,130.70 536.50,131.94 537.50,132.50C538.83,133.24 540.17,133.78 541.50,134.00C543.50,134.33 545.50,134.40 547.50,134.60" fill="none" stroke="#7a2a8e" stroke-width="1.6" stroke-linejoin="round" stroke-linecap="round"/>
<path d="M300.20,18.00C303.47,18.70 306.73,19.47 310.00,20.10C315.00,21.07 320.00,21.91 325.00,22.70C328.67,23.28 332.33,23.66 336.00,24.30C339.00,24.82 342.00,25.56 345.00,26.20C347.00,26.63 349.00,27.00 351.00,27.50C352.80,27.95 354.60,28.49 356.40,29.10C358.20,29.71 360.00,30.64 361.80,31.20C363.20,31.63 364.60,31.92 366.00,32.30C367.33,32.66 368.67,32.96 370.00,33.40C371.17,33.78 372.33,34.19 373.50,34.80C374.67,35.41 375.83,36.49 377.00,37.50C378.33,38.66 379.67,40.09 381.00,41.50C382.33,42.91 383.67,44.32 385.00,46.00C386.17,47.47 387.33,48.88 388.50,51.00C389.33,52.51 390.17,54.77 391.00,57.00C391.67,58.79 392.33,60.92 393.00,63.00C393.67,65.08 394.33,67.33 395.00,69.50C395.67,71.67 396.33,73.61 397.00,76.00C397.67,78.39 398.33,81.51 399.00,84.00C399.67,86.49 400.33,88.67 401.00,91.00C401.67,93.33 402.33,95.51 403.00,98.00C403.67,100.49 404.33,103.51 405.00,106.00C405.67,108.49 406.33,110.92 407.00,113.00C407.83,115.60 408.67,118.06 409.50,120.00C410.33,121.94 411.17,123.69 412.00,125.00C413.33,127.09 414.67,129.03 416.00,130.00C417.67,131.21 419.33,132.11 421.00,132.50C424.00,133.21 427.00,133.66 430.00,133.80C436.67,134.11 443.33,134.26 450.00,134.30C482.00,134.51 514.00,134.50 546.00,134.60" fill="none" stroke="#62c5dd" stroke-width="1.5" stroke-linejoin="round" stroke-linecap="round"/>
<path d="M300.20,18.00C303.47,18.70 306.73,19.47 310.00,20.10C315.00,21.07 320.00,21.91 325.00,22.70C328.67,23.28 332.33,23.66 336.00,24.30C339.00,24.82 342.00,25.56 345.00,26.20C347.00,26.63 349.00,27.00 351.00,27.50C352.80,27.95 354.60,28.49 356.40,29.10C358.20,29.71 360.00,30.64 361.80,31.20C363.20,31.63 364.60,31.92 366.00,32.30C367.33,32.66 368.67,32.96 370.00,33.40C371.17,33.78 372.33,34.20 373.50,34.80C374.67,35.40 375.83,36.27 377.00,37.30C378.33,38.48 379.67,40.15 381.00,42.00C382.00,43.39 383.00,44.97 384.00,47.00C384.67,48.35 385.33,49.93 386.00,52.00C386.50,53.56 387.00,56.00 387.50,58.00C388.00,60.00 388.50,62.00 389.00,64.00C389.50,66.00 390.00,68.00 390.50,70.00C391.00,72.00 391.50,73.85 392.00,76.00C392.50,78.15 393.00,80.38 393.50,83.00C394.00,85.62 394.50,89.18 395.00,92.00C395.50,94.82 396.00,97.33 396.50,100.00C397.00,102.67 397.50,105.96 398.00,108.00C398.67,110.72 399.33,112.85 400.00,114.50C400.67,116.15 401.33,117.34 402.00,118.50C403.33,120.82 404.67,122.68 406.00,124.50C407.33,126.32 408.67,128.52 410.00,129.50C412.00,130.97 414.00,132.03 416.00,132.50C419.00,133.20 422.00,133.68 425.00,133.80C433.33,134.13 441.67,134.25 450.00,134.30C482.00,134.50 514.00,134.50 546.00,134.60" fill="none" stroke="#62c5dd" stroke-width="1.5" stroke-linejoin="round" stroke-linecap="round"/>
<path d="M300.20,18.00C303.47,19.00 306.73,20.11 310.00,21.00C315.00,22.36 320.00,23.57 325.00,24.60C328.67,25.35 332.33,25.71 336.00,26.60C337.80,27.04 339.60,27.68 341.40,28.40C343.20,29.12 345.00,29.74 346.80,31.10C347.87,31.90 348.93,33.57 350.00,35.30C350.83,36.65 351.67,38.77 352.50,40.50" fill="none" stroke="#f07d24" stroke-width="1.5" stroke-linejoin="round" stroke-linecap="round"/>
<path d="M350.00,35.30C350.83,37.03 351.67,38.52 352.50,40.50C353.17,42.09 353.83,43.66 354.50,46.00C355.00,47.75 355.50,50.72 356.00,53.00C356.60,55.73 357.20,58.10 357.80,61.00C358.37,63.74 358.93,67.39 359.50,70.00C360.33,73.83 361.17,76.67 362.00,80.00C362.83,83.33 363.67,86.53 364.50,90.00C365.27,93.20 366.03,97.03 366.80,100.00C367.37,102.20 367.93,104.17 368.50,106.00C369.00,107.62 369.50,109.13 370.00,110.50C370.60,112.14 371.20,113.59 371.80,115.00C372.63,116.96 373.47,119.17 374.30,120.50C375.53,122.47 376.77,124.00 378.00,125.00C380.33,126.88 382.67,128.29 385.00,129.00C388.33,130.02 391.67,130.43 395.00,131.00C398.33,131.57 401.67,132.23 405.00,132.50C410.00,132.91 415.00,133.17 420.00,133.30C430.00,133.57 440.00,133.73 450.00,133.80C482.00,134.04 514.00,134.07 546.00,134.20" fill="none" stroke="#f07d24" stroke-width="2.6" stroke-linejoin="round" stroke-linecap="round"/>
<path d="M300.20,18.00C303.47,18.73 306.73,19.54 310.00,20.20C315.00,21.21 320.00,22.10 325.00,22.90C328.67,23.49 332.33,23.82 336.00,24.50C339.35,25.12 342.70,25.93 346.05,27.00C347.13,27.35 348.21,27.84 349.29,28.30C350.56,28.84 351.83,29.25 353.10,30.00C354.10,30.59 355.10,31.47 356.10,32.50C357.10,33.53 358.10,34.98 359.10,36.50C359.87,37.66 360.63,39.17 361.40,40.50C362.47,42.34 363.53,44.51 364.60,46.00C365.73,47.59 366.87,48.42 368.00,50.00C368.80,51.11 369.60,52.76 370.40,54.00C371.23,55.29 372.07,56.64 372.90,57.60C373.80,58.64 374.70,59.44 375.60,60.20C376.77,61.18 377.93,62.01 379.10,62.80C380.43,63.71 381.77,64.38 383.10,65.30C384.27,66.11 385.43,66.94 386.60,68.00C387.60,68.91 388.60,70.01 389.60,71.30C390.60,72.59 391.60,74.35 392.60,76.00C393.93,78.20 395.27,80.51 396.60,83.00C397.77,85.18 398.93,87.48 400.10,90.00C401.10,92.16 402.10,94.67 403.10,97.00C404.10,99.33 405.10,101.67 406.10,104.00C407.10,106.33 408.10,108.51 409.10,111.00C410.10,113.49 411.10,116.61 412.10,119.00C413.10,121.39 414.10,123.90 415.10,125.50C416.10,127.10 417.10,128.56 418.10,129.30C419.77,130.54 421.43,131.41 423.10,131.80C426.43,132.58 429.77,132.98 433.10,133.20C438.10,133.52 443.10,133.73 448.10,133.80C480.10,134.22 512.10,134.20 544.10,134.40" fill="none" stroke="#16884a" stroke-width="1.5" stroke-linejoin="round" stroke-linecap="round"/>
<path d="M300.20,18.00C303.47,18.73 306.73,19.54 310.00,20.20C315.00,21.21 320.00,22.10 325.00,22.90C328.67,23.49 332.33,23.87 336.00,24.50C339.98,25.18 343.97,26.04 347.95,27.00C349.54,27.38 351.12,27.78 352.71,28.30C354.11,28.76 355.50,29.22 356.90,30.00C357.90,30.56 358.90,31.47 359.90,32.50C360.90,33.53 361.90,34.98 362.90,36.50C363.67,37.66 364.43,39.17 365.20,40.50C366.27,42.34 367.33,44.51 368.40,46.00C369.53,47.59 370.67,48.42 371.80,50.00C372.60,51.11 373.40,52.76 374.20,54.00C375.03,55.29 375.87,56.64 376.70,57.60C377.60,58.64 378.50,59.44 379.40,60.20C380.57,61.18 381.73,62.01 382.90,62.80C384.23,63.71 385.57,64.38 386.90,65.30C388.07,66.11 389.23,66.94 390.40,68.00C391.40,68.91 392.40,70.01 393.40,71.30C394.40,72.59 395.40,74.35 396.40,76.00C397.73,78.20 399.07,80.51 400.40,83.00C401.57,85.18 402.73,87.48 403.90,90.00C404.90,92.16 405.90,94.67 406.90,97.00C407.90,99.33 408.90,101.67 409.90,104.00C410.90,106.33 411.90,108.51 412.90,111.00C413.90,113.49 414.90,116.61 415.90,119.00C416.90,121.39 417.90,123.90 418.90,125.50C419.90,127.10 420.90,128.56 421.90,129.30C423.57,130.54 425.23,131.41 426.90,131.80C430.23,132.58 433.57,132.98 436.90,133.20C441.90,133.52 446.90,133.73 451.90,133.80C483.90,134.22 515.90,134.20 547.90,134.40" fill="none" stroke="#16884a" stroke-width="1.5" stroke-linejoin="round" stroke-linecap="round"/>
<path d="M391.50,71.30C392.50,72.87 393.50,74.35 394.50,76.00C395.83,78.20 397.17,80.51 398.50,83.00C399.67,85.18 400.83,87.48 402.00,90.00C403.00,92.16 404.00,94.67 405.00,97.00C406.00,99.33 407.00,101.67 408.00,104.00C409.00,106.33 410.00,108.51 411.00,111.00C412.00,113.49 413.00,116.61 414.00,119.00C415.00,121.39 416.00,123.90 417.00,125.50C418.00,127.10 419.00,128.56 420.00,129.30C421.67,130.54 423.33,131.41 425.00,131.80C428.33,132.58 431.67,132.98 435.00,133.20C440.00,133.52 445.00,133.73 450.00,133.80C482.00,134.22 514.00,134.20 546.00,134.40" fill="none" stroke="#16884a" stroke-width="1.5" stroke-linejoin="round" stroke-linecap="round"/>
<path d="M420.00,130.20C421.67,131.03 423.33,132.31 425.00,132.70C428.33,133.48 431.67,133.88 435.00,134.10C440.00,134.42 445.00,134.63 450.00,134.70C482.00,135.12 514.00,135.10 546.00,135.30" fill="none" stroke="#16884a" stroke-width="1.5" stroke-linejoin="round" stroke-linecap="round"/>
<path d="M300.20,18.00 L302.70,19.90 L305.50,22.60 L308.20,25.40 L310.90,26.50 L313.60,28.10 L316.40,30.80 L318.00,32.00 L320.00,34.00 L322.00,36.50 L324.00,36.80 L326.00,36.50 L328.00,37.00 L330.00,38.00 L332.00,39.50 L334.00,41.00 L336.00,41.80 L338.00,42.50 L340.00,43.20 L342.00,44.00 L345.00,46.50 L350.00,49.00 L355.00,53.00 L360.00,55.00 L365.00,57.00 L370.00,61.00 L375.00,66.00 L380.00,69.00 L385.00,71.00 L390.00,72.00 L395.00,74.00 L398.00,76.00 L400.00,78.00 L403.00,80.50 L406.00,83.00 L409.00,84.00 L412.00,84.50 L416.00,85.00 L420.00,87.50 L423.00,89.50 L426.00,90.50 L429.00,91.50 L431.50,90.50 L435.00,93.00 L438.00,95.50 L441.00,99.50 L444.00,101.50 L447.00,103.00 L450.00,102.50 L454.00,104.50 L457.00,104.00 L460.00,105.50 L463.00,106.50 L466.00,108.50 L469.00,110.00 L472.00,110.50 L476.00,112.50 L480.00,115.00 L484.00,114.50 L489.00,114.20 L492.00,114.50 L495.00,118.00 L497.00,121.00 L502.00,123.50 L506.00,120.00 L512.00,124.50 L515.00,123.00 L521.00,126.50 L524.00,130.50 L529.00,130.50 L533.00,132.00 L537.00,133.50 L542.00,135.00 L546.00,135.60" fill="none" stroke="#767676" stroke-width="1.6" stroke-linejoin="round" stroke-linecap="round"/>
</g>
<line x1="299.50" y1="14.70" x2="299.50" y2="140.20" class="ax"/>
<line x1="299.00" y1="139.70" x2="546.00" y2="139.70" class="ax"/>
<line x1="307.40" y1="139.10" x2="307.40" y2="140.30" class="tg"/>
<line x1="338.30" y1="139.10" x2="338.30" y2="140.30" class="tg"/>
<line x1="369.20" y1="139.10" x2="369.20" y2="140.30" class="tg"/>
<line x1="400.10" y1="139.10" x2="400.10" y2="140.30" class="tg"/>
<line x1="431.00" y1="139.10" x2="431.00" y2="140.30" class="tg"/>
<line x1="461.90" y1="139.10" x2="461.90" y2="140.30" class="tg"/>
<line x1="492.80" y1="139.10" x2="492.80" y2="140.30" class="tg"/>
<line x1="523.70" y1="139.10" x2="523.70" y2="140.30" class="tg"/>
<line x1="38.00" y1="166.50" x2="38.00" y2="290.50" class="g"/>
<line x1="72.25" y1="166.50" x2="72.25" y2="290.50" class="g"/>
<line x1="106.50" y1="166.50" x2="106.50" y2="290.50" class="g"/>
<line x1="140.75" y1="166.50" x2="140.75" y2="290.50" class="g"/>
<line x1="175.00" y1="166.50" x2="175.00" y2="290.50" class="g"/>
<line x1="209.25" y1="166.50" x2="209.25" y2="290.50" class="g"/>
<line x1="243.50" y1="166.50" x2="243.50" y2="290.50" class="g"/>
<line x1="28.00" y1="278.80" x2="275.40" y2="278.80" class="g"/>
<line x1="28.00" y1="266.60" x2="275.40" y2="266.60" class="g"/>
<line x1="28.00" y1="254.40" x2="275.40" y2="254.40" class="g"/>
<line x1="28.00" y1="242.20" x2="275.40" y2="242.20" class="g"/>
<line x1="28.00" y1="230.00" x2="275.40" y2="230.00" class="g"/>
<line x1="28.00" y1="217.80" x2="275.40" y2="217.80" class="g"/>
<line x1="28.00" y1="205.60" x2="275.40" y2="205.60" class="g"/>
<line x1="28.00" y1="193.40" x2="275.40" y2="193.40" class="g"/>
<line x1="28.00" y1="181.20" x2="275.40" y2="181.20" class="g"/>
<line x1="28.00" y1="169.00" x2="275.40" y2="169.00" class="g"/>
<line x1="28.00" y1="166.50" x2="275.40" y2="166.50" class="ft"/>
<line x1="275.40" y1="166.50" x2="275.40" y2="290.50" class="fr"/>
<text x="26.30" y="282.10" class="tk" text-anchor="end">10</text>
<text x="26.30" y="269.90" class="tk" text-anchor="end">20</text>
<text x="26.30" y="257.70" class="tk" text-anchor="end">30</text>
<text x="26.30" y="245.50" class="tk" text-anchor="end">40</text>
<text x="26.30" y="233.30" class="tk" text-anchor="end">50</text>
<text x="26.30" y="221.10" class="tk" text-anchor="end">60</text>
<text x="26.30" y="208.90" class="tk" text-anchor="end">70</text>
<text x="26.30" y="196.70" class="tk" text-anchor="end">80</text>
<text x="26.30" y="184.50" class="tk" text-anchor="end">90</text>
<text x="26.30" y="172.30" class="tk" text-anchor="end">100</text>
<text x="38.00" y="298.80" class="tk" text-anchor="middle">80</text>
<text x="72.25" y="298.80" class="tk" text-anchor="middle">81</text>
<text x="106.50" y="298.80" class="tk" text-anchor="middle">82</text>
<text x="140.75" y="298.80" class="tk" text-anchor="middle">83</text>
<text x="175.00" y="298.80" class="tk" text-anchor="middle">84</text>
<text x="209.25" y="298.80" class="tk" text-anchor="middle">85</text>
<text x="243.50" y="298.80" class="tk" text-anchor="middle">86</text>
<g clip-path="url(#clipc)">
<path d="M28.30,169.50C32.20,170.60 36.10,171.85 40.00,172.80C45.00,174.02 50.00,174.85 55.00,176.00C61.67,177.53 68.33,179.18 75.00,181.00C81.67,182.82 88.33,184.47 95.00,187.00C100.00,188.90 105.00,191.56 110.00,194.50C112.67,196.07 115.33,197.81 118.00,200.00C120.00,201.64 122.00,203.57 124.00,206.00C125.33,207.62 126.67,209.85 128.00,212.00C129.33,214.15 130.67,216.32 132.00,219.00C133.00,221.01 134.00,223.67 135.00,226.00C136.00,228.33 137.00,230.59 138.00,233.00C139.00,235.41 140.00,237.77 141.00,240.50C141.83,242.78 142.67,245.42 143.50,248.00C144.33,250.58 145.17,253.33 146.00,256.00C146.83,258.67 147.67,261.51 148.50,264.00C149.33,266.49 150.17,269.14 151.00,271.00C152.00,273.23 153.00,275.19 154.00,276.50C155.33,278.25 156.67,279.49 158.00,280.50C159.67,281.76 161.33,282.96 163.00,283.50C165.33,284.26 167.67,284.84 170.00,285.00C180.00,285.68 190.00,285.70 200.00,286.00C225.33,286.76 250.67,287.33 276.00,288.00" fill="none" stroke="#3a55a5" stroke-width="1.5" stroke-linejoin="round" stroke-linecap="round"/>
<path d="M28.30,169.50C32.26,170.66 36.22,171.97 40.18,172.98C45.26,174.28 50.34,175.21 55.42,176.42C62.11,178.01 68.81,179.66 75.50,181.50C82.17,183.33 88.83,184.97 95.50,187.50C100.50,189.40 105.50,192.06 110.50,195.00C113.17,196.57 115.83,198.31 118.50,200.50C120.50,202.14 122.50,204.07 124.50,206.50C125.83,208.12 127.17,210.35 128.50,212.50C129.83,214.65 131.17,216.82 132.50,219.50C133.50,221.51 134.50,224.17 135.50,226.50C136.50,228.83 137.50,231.09 138.50,233.50C139.50,235.91 140.50,238.27 141.50,241.00C142.33,243.28 143.17,245.92 144.00,248.50C144.83,251.08 145.67,253.83 146.50,256.50C147.33,259.17 148.17,262.01 149.00,264.50C149.83,266.99 150.67,269.64 151.50,271.50C152.50,273.73 153.50,275.69 154.50,277.00C155.83,278.75 157.17,279.99 158.50,281.00C160.17,282.26 161.83,283.46 163.50,284.00C165.83,284.76 168.17,285.34 170.50,285.50C180.50,286.18 190.50,286.20 200.50,286.50C225.83,287.26 251.17,287.83 276.50,288.50" fill="none" stroke="#3a55a5" stroke-width="1.5" stroke-linejoin="round" stroke-linecap="round"/>
<path d="M28.30,169.50C32.20,170.67 36.10,171.90 40.00,173.00C45.00,174.41 50.00,175.65 55.00,177.00C61.67,178.80 68.33,180.39 75.00,182.50C80.00,184.08 85.00,186.13 90.00,188.00C93.33,189.25 96.67,190.58 100.00,191.80C104.00,193.26 108.00,194.20 112.00,196.00C115.00,197.35 118.00,199.27 121.00,201.50C123.00,202.99 125.00,204.69 127.00,207.00C128.33,208.54 129.67,210.85 131.00,213.00C132.33,215.15 133.67,217.41 135.00,220.00C136.00,221.95 137.00,224.33 138.00,226.50C139.00,228.67 140.00,230.75 141.00,233.00C142.00,235.25 143.00,237.51 144.00,240.00C145.00,242.49 146.00,245.51 147.00,248.00C148.00,250.49 149.00,253.15 150.00,255.00C151.33,257.46 152.67,259.39 154.00,261.00C155.67,263.01 157.33,264.76 159.00,266.00C161.00,267.49 163.00,268.72 165.00,269.50C166.67,270.15 168.33,270.74 170.00,271.00C173.33,271.53 176.67,271.67 180.00,272.00C183.33,272.33 186.67,272.67 190.00,273.00C193.33,273.33 196.67,273.60 200.00,274.00C203.33,274.40 206.67,274.81 210.00,275.50C211.67,275.85 213.33,276.49 215.00,277.00C217.67,277.82 220.33,278.61 223.00,279.50C226.67,280.73 230.33,282.53 234.00,283.50C237.67,284.47 241.33,285.45 245.00,285.80C255.33,286.79 265.67,286.93 276.00,287.50" fill="none" stroke="#e8232a" stroke-width="1.5" stroke-linejoin="round" stroke-linecap="round"/>
<path d="M28.30,169.50C32.20,170.67 36.10,171.97 40.00,173.00C45.00,174.32 50.00,175.24 55.00,176.50C61.67,178.18 68.33,179.98 75.00,182.00C80.00,183.51 85.00,185.07 90.00,187.00C93.33,188.29 96.67,189.92 100.00,191.50C102.33,192.61 104.67,193.71 107.00,195.00C109.67,196.48 112.33,197.93 115.00,200.00C117.00,201.56 119.00,203.81 121.00,206.00C122.67,207.82 124.33,209.61 126.00,212.00C127.33,213.91 128.67,216.32 130.00,219.00C131.00,221.01 132.00,223.67 133.00,226.00C134.00,228.33 135.00,230.67 136.00,233.00C137.00,235.33 138.00,237.63 139.00,240.00C139.83,241.97 140.67,243.92 141.50,246.00C142.33,248.08 143.17,250.24 144.00,252.50C145.00,255.21 146.00,258.25 147.00,261.00C148.00,263.75 149.00,266.71 150.00,269.00C151.00,271.29 152.00,273.29 153.00,275.00C154.00,276.71 155.00,278.48 156.00,279.50C157.33,280.85 158.67,281.80 160.00,282.50C161.67,283.38 163.33,284.21 165.00,284.50C168.33,285.07 171.67,285.38 175.00,285.50C188.33,285.96 201.67,285.91 215.00,286.20C235.33,286.64 255.67,287.40 276.00,288.00" fill="none" stroke="#e8232a" stroke-width="1.5" stroke-linejoin="round" stroke-linecap="round"/>
<path d="M28.30,169.50C32.20,170.93 36.10,172.48 40.00,173.80C45.00,175.50 50.00,176.63 55.00,178.50C58.33,179.75 61.67,181.25 65.00,183.00C67.67,184.40 70.33,186.22 73.00,188.00C75.33,189.56 77.67,191.04 80.00,193.00C81.67,194.40 83.33,196.33 85.00,198.00C86.67,199.67 88.33,200.71 90.00,203.00C91.00,204.37 92.00,207.00 93.00,209.00C94.00,211.00 95.00,213.00 96.00,215.00C97.00,217.00 98.00,218.43 99.00,221.00C99.50,222.29 100.00,224.18 100.50,226.00C101.00,227.82 101.50,230.27 102.00,232.00C102.67,234.30 103.33,236.24 104.00,238.00C105.00,240.65 106.00,243.15 107.00,245.00C108.33,247.46 109.67,249.18 111.00,251.00C112.33,252.82 113.67,254.58 115.00,256.00C117.00,258.14 119.00,260.12 121.00,261.50C123.00,262.88 125.00,263.99 127.00,264.80C129.67,265.88 132.33,266.71 135.00,267.30C138.33,268.04 141.67,268.51 145.00,269.00C148.33,269.49 151.67,269.89 155.00,270.30C160.00,270.91 165.00,271.62 170.00,272.00C173.33,272.26 176.67,272.36 180.00,272.60C183.33,272.84 186.67,273.12 190.00,273.50C193.33,273.88 196.67,274.43 200.00,275.00C203.33,275.57 206.67,276.26 210.00,277.00C213.33,277.74 216.67,278.58 220.00,279.50C223.33,280.42 226.67,281.60 230.00,282.60C233.33,283.60 236.67,285.04 240.00,285.50C252.00,287.15 264.00,287.37 276.00,288.30" fill="none" stroke="#16884a" stroke-width="1.5" stroke-linejoin="round" stroke-linecap="round"/>
<path d="M28.30,169.50C32.20,170.93 36.10,172.48 40.00,173.80C45.00,175.50 50.00,176.63 55.00,178.50C58.33,179.75 61.67,181.25 65.00,183.00C67.67,184.40 70.33,186.22 73.00,188.00C75.33,189.56 77.67,191.04 80.00,193.00C81.67,194.40 83.33,196.33 85.00,198.00C86.67,199.67 88.33,200.71 90.00,203.00C91.00,204.37 92.00,207.00 93.00,209.00C94.00,211.00 95.00,213.00 96.00,215.00C97.00,217.00 98.00,218.43 99.00,221.00C99.50,222.29 100.00,224.18 100.50,226.00C101.00,227.82 101.50,230.53 102.00,232.00C102.90,234.64 103.80,235.84 104.70,238.00C105.47,239.84 106.23,241.96 107.00,244.00C107.73,245.96 108.47,247.89 109.20,250.00C109.97,252.20 110.73,254.89 111.50,257.00C112.50,259.76 113.50,262.39 114.50,264.50C115.60,266.82 116.70,268.96 117.80,270.50C119.20,272.46 120.60,274.10 122.00,275.20C123.87,276.66 125.73,277.65 127.60,278.50C129.57,279.40 131.53,280.20 133.50,280.70C137.33,281.68 141.17,282.30 145.00,282.80C150.00,283.45 155.00,283.96 160.00,284.30C166.67,284.75 173.33,285.10 180.00,285.30C191.67,285.65 203.33,285.72 215.00,286.00C235.33,286.49 255.67,287.33 276.00,288.00" fill="none" stroke="#16884a" stroke-width="1.5" stroke-linejoin="round" stroke-linecap="round"/>
<path d="M28.30,169.52C32.20,170.62 36.10,171.94 40.00,172.84C42.67,173.45 45.33,173.91 48.00,174.40C50.33,174.83 52.67,175.16 55.00,175.60C58.33,176.23 61.67,176.95 65.00,177.70C68.33,178.45 71.67,179.28 75.00,180.10C78.33,180.92 81.67,181.75 85.00,182.60C88.33,183.45 91.67,184.27 95.00,185.20C98.33,186.13 101.67,187.18 105.00,188.20C108.33,189.22 111.67,190.21 115.00,191.30C118.00,192.28 121.00,193.34 124.00,194.40C127.67,195.70 131.33,196.91 135.00,198.40C138.33,199.76 141.67,201.72 145.00,203.01C149.33,204.70 153.67,206.05 158.00,207.31C161.33,208.28 164.67,209.04 168.00,209.94C171.33,210.84 174.67,211.75 178.00,212.74C181.33,213.72 184.67,214.63 188.00,215.86C191.33,217.09 194.67,218.45 198.00,220.38C200.67,221.92 203.33,224.24 206.00,226.60C208.17,228.52 210.33,230.78 212.50,233.20C214.00,234.87 215.50,236.60 217.00,238.70C218.33,240.57 219.67,243.07 221.00,245.20C222.17,247.06 223.33,248.81 224.50,250.70C225.53,252.38 226.57,254.23 227.60,255.90C228.73,257.73 229.87,259.37 231.00,261.20C232.00,262.81 233.00,264.62 234.00,266.20C235.00,267.78 236.00,269.26 237.00,270.70C238.33,272.62 239.67,274.45 241.00,276.20C242.33,277.95 243.67,279.92 245.00,281.20C246.33,282.48 247.67,283.48 249.00,284.33C250.33,285.17 251.67,286.06 253.00,286.45C254.33,286.85 255.67,287.10 257.00,287.27C259.00,287.54 261.00,287.71 263.00,287.82C267.33,288.06 271.67,288.14 276.00,288.30" fill="none" stroke="#7a2a8e" stroke-width="1.55" stroke-linejoin="round" stroke-linecap="round"/>
<path d="M28.30,169.50C32.20,170.40 36.10,171.46 40.00,172.20C42.67,172.70 45.33,173.05 48.00,173.50C50.33,173.89 52.67,174.26 55.00,174.70C58.33,175.33 61.67,176.05 65.00,176.80C68.33,177.55 71.67,178.38 75.00,179.20C78.33,180.02 81.67,180.85 85.00,181.70C88.33,182.55 91.67,183.37 95.00,184.30C98.33,185.23 101.67,186.28 105.00,187.30C108.33,188.32 111.67,189.31 115.00,190.40C118.00,191.38 121.00,192.44 124.00,193.50C127.67,194.80 131.33,196.02 135.00,197.50C138.33,198.84 141.67,200.77 145.00,202.00C149.33,203.60 153.67,204.84 158.00,206.00C161.33,206.89 164.67,207.57 168.00,208.40C171.33,209.23 174.67,210.07 178.00,211.00C181.33,211.93 184.67,212.81 188.00,214.00C191.33,215.19 194.67,216.58 198.00,218.40C200.67,219.85 203.33,221.87 206.00,224.00C208.17,225.73 210.33,227.70 212.50,230.00C214.00,231.59 215.50,233.40 217.00,235.50C218.33,237.37 219.67,239.87 221.00,242.00C222.17,243.86 223.33,245.61 224.50,247.50C225.53,249.18 226.57,251.03 227.60,252.70C228.73,254.53 229.87,256.17 231.00,258.00C232.00,259.61 233.00,261.42 234.00,263.00C235.00,264.58 236.00,266.06 237.00,267.50C238.33,269.42 239.67,271.25 241.00,273.00C242.33,274.75 243.67,276.52 245.00,278.00C246.33,279.48 247.67,280.86 249.00,282.00C250.33,283.14 251.67,284.33 253.00,285.00C254.33,285.67 255.67,286.25 257.00,286.50C259.00,286.87 261.00,287.03 263.00,287.20C267.33,287.56 271.67,287.73 276.00,288.00" fill="none" stroke="#7a2a8e" stroke-width="1.55" stroke-linejoin="round" stroke-linecap="round"/>
<path d="M28.30,169.50C32.20,171.00 36.10,172.53 40.00,174.00C45.00,175.88 50.00,177.19 55.00,179.50C58.33,181.04 61.67,183.35 65.00,185.50C68.33,187.65 71.67,189.92 75.00,192.50C77.33,194.31 79.67,196.45 82.00,198.50C83.67,199.97 85.33,201.29 87.00,203.00C88.00,204.03 89.00,204.98 90.00,206.50C91.00,208.02 92.00,210.92 93.00,213.00C94.00,215.08 95.00,216.57 96.00,219.00C96.67,220.62 97.33,223.18 98.00,225.00C98.67,226.82 99.33,228.28 100.00,230.00C101.00,232.58 102.00,235.33 103.00,238.00C104.00,240.67 105.00,243.51 106.00,246.00C107.00,248.49 108.00,250.35 109.00,253.00C109.67,254.76 110.33,257.64 111.00,259.00C112.00,261.05 113.00,262.42 114.00,263.50C115.33,264.94 116.67,265.95 118.00,266.80C120.33,268.29 122.67,269.57 125.00,270.30C128.33,271.34 131.67,272.01 135.00,272.50C138.33,272.99 141.67,273.27 145.00,273.60C148.33,273.93 151.67,274.27 155.00,274.50C160.00,274.84 165.00,274.99 170.00,275.30C176.67,275.71 183.33,276.18 190.00,276.80C197.33,277.48 204.67,278.38 212.00,279.50C216.33,280.16 220.67,281.00 225.00,282.00C228.00,282.69 231.00,283.84 234.00,284.50C237.67,285.31 241.33,286.15 245.00,286.50C255.33,287.49 265.67,287.70 276.00,288.30" fill="none" stroke="#62c5dd" stroke-width="1.5" stroke-linejoin="round" stroke-linecap="round"/>
<path d="M28.30,169.50C32.20,171.00 36.10,172.50 40.00,174.00C45.00,175.93 50.00,177.42 55.00,179.80C57.67,181.07 60.33,182.78 63.00,184.50C65.33,186.01 67.67,187.63 70.00,189.50C71.67,190.84 73.33,192.25 75.00,194.00C76.33,195.40 77.67,197.17 79.00,199.00C80.00,200.37 81.00,201.92 82.00,203.50C83.00,205.08 84.00,206.62 85.00,208.50C86.00,210.38 87.00,212.45 88.00,215.00C88.97,217.47 89.93,220.89 90.90,224.00C91.60,226.25 92.30,228.75 93.00,231.00C93.73,233.35 94.47,235.53 95.20,237.80C95.93,240.07 96.67,242.32 97.40,244.60C98.13,246.88 98.87,249.13 99.60,251.50C100.30,253.76 101.00,256.31 101.70,258.50C102.43,260.80 103.17,263.01 103.90,265.00C104.70,267.17 105.50,269.22 106.30,271.00C107.13,272.85 107.97,274.65 108.80,276.00C109.73,277.51 110.67,278.84 111.60,279.80C112.57,280.80 113.53,281.60 114.50,282.20C115.97,283.10 117.43,283.93 118.90,284.30C121.10,284.86 123.30,285.13 125.50,285.40C127.90,285.70 130.30,285.93 132.70,286.10C135.13,286.27 137.57,286.41 140.00,286.50C145.33,286.69 150.67,286.78 156.00,286.90C160.67,287.01 165.33,287.12 170.00,287.20C205.33,287.79 240.67,288.07 276.00,288.50" fill="none" stroke="#62c5dd" stroke-width="1.5" stroke-linejoin="round" stroke-linecap="round"/>
<path d="M28.30,169.50C32.20,170.77 36.10,172.20 40.00,173.30C45.00,174.71 50.00,175.58 55.00,177.00C60.00,178.42 65.00,180.18 70.00,182.00C75.00,183.82 80.00,185.75 85.00,188.00C87.33,189.05 89.67,190.24 92.00,191.50C94.00,192.58 96.00,193.80 98.00,195.00C100.67,196.61 103.33,197.93 106.00,200.00C108.00,201.56 110.00,203.41 112.00,206.00C113.33,207.73 114.67,210.32 116.00,213.00C117.00,215.01 118.00,217.35 119.00,220.00C119.67,221.76 120.33,223.89 121.00,226.00C121.50,227.58 122.00,229.16 122.50,231.00C123.07,233.08 123.63,235.98 124.20,238.00C125.07,241.08 125.93,243.38 126.80,246.00C127.70,248.72 128.60,251.23 129.50,254.00C130.43,256.88 131.37,260.56 132.30,263.00C133.37,265.79 134.43,268.09 135.50,270.00C136.83,272.39 138.17,274.39 139.50,276.00C141.17,278.01 142.83,279.73 144.50,281.00C146.00,282.15 147.50,283.30 149.00,283.80C151.33,284.57 153.67,285.00 156.00,285.30C160.67,285.90 165.33,286.32 170.00,286.50C185.00,287.09 200.00,287.15 215.00,287.50C235.33,287.97 255.67,288.50 276.00,289.00" fill="none" stroke="#f07d24" stroke-width="1.5" stroke-linejoin="round" stroke-linecap="round"/>
<path d="M28.30,169.50C32.20,170.77 36.10,172.20 40.00,173.30C45.00,174.71 50.00,175.58 55.00,177.00C60.00,178.42 65.00,180.18 70.00,182.00C75.00,183.82 80.00,185.75 85.00,188.00C87.33,189.05 89.67,190.24 92.00,191.50C94.00,192.58 96.00,193.72 98.00,195.00C100.33,196.49 102.67,197.88 105.00,200.00C106.67,201.51 108.33,203.61 110.00,206.00C111.33,207.91 112.67,210.32 114.00,213.00C115.00,215.01 116.00,217.35 117.00,220.00C117.67,221.76 118.33,223.89 119.00,226.00C119.50,227.58 120.00,229.06 120.50,231.00C121.00,232.94 121.50,236.07 122.00,238.00C122.83,241.21 123.67,243.33 124.50,246.00C125.33,248.67 126.17,251.42 127.00,254.00C128.00,257.10 129.00,260.38 130.00,263.00C131.00,265.62 132.00,268.15 133.00,270.00C134.33,272.46 135.67,274.39 137.00,276.00C138.67,278.01 140.33,279.89 142.00,281.00C143.67,282.11 145.33,282.99 147.00,283.50C149.67,284.32 152.33,284.86 155.00,285.20C160.00,285.84 165.00,286.30 170.00,286.50C185.00,287.09 200.00,287.15 215.00,287.50C235.33,287.97 255.67,288.50 276.00,289.00" fill="none" stroke="#f07d24" stroke-width="1.5" stroke-linejoin="round" stroke-linecap="round"/>
<path d="M28.30,169.50C32.14,170.76 35.98,172.09 39.82,173.28C44.74,174.81 49.66,176.05 54.58,177.60C56.89,178.32 59.19,179.08 61.50,179.90C64.17,180.85 66.83,181.93 69.50,183.00C71.83,183.94 74.17,184.82 76.50,185.90C78.50,186.82 80.50,187.76 82.50,189.00C83.83,189.83 85.17,190.78 86.50,192.00C87.50,192.91 88.50,194.20 89.50,195.40C91.17,197.41 92.83,199.51 94.50,201.90C96.17,204.29 97.83,207.01 99.50,209.90C100.83,212.21 102.17,214.82 103.50,217.40C104.50,219.34 105.50,220.97 106.50,223.40C107.17,225.02 107.83,227.40 108.50,229.40C109.17,231.40 109.83,233.64 110.50,235.40C111.50,238.05 112.50,240.07 113.50,242.40C114.50,244.73 115.50,247.25 116.50,249.40C117.50,251.55 118.50,253.58 119.50,255.40C120.50,257.22 121.50,258.99 122.50,260.40C124.17,262.76 125.83,264.69 127.50,266.40C129.17,268.11 130.83,269.76 132.50,270.90C134.83,272.50 137.17,273.77 139.50,274.70C141.83,275.63 144.17,276.35 146.50,276.90C149.17,277.53 151.83,278.12 154.50,278.40C159.50,278.92 164.50,279.11 169.50,279.40C176.17,279.78 182.83,279.94 189.50,280.40C192.83,280.63 196.17,281.13 199.50,281.40C204.50,281.81 209.50,281.90 214.50,282.40C217.83,282.73 221.17,283.67 224.50,284.20C229.83,285.04 235.17,286.03 240.50,286.40C252.17,287.22 263.83,287.40 275.50,287.90" fill="none" stroke="#f3e21c" stroke-width="1.5" stroke-linejoin="round" stroke-linecap="round"/>
<path d="M28.30,169.50C32.29,170.93 36.27,172.43 40.26,173.79C45.37,175.54 50.48,177.03 55.59,178.77C57.96,179.58 60.33,180.42 62.70,181.30C65.37,182.29 68.03,183.33 70.70,184.40C73.03,185.34 75.37,186.22 77.70,187.30C79.70,188.22 81.70,189.16 83.70,190.40C85.03,191.23 86.37,192.18 87.70,193.40C88.70,194.31 89.70,195.60 90.70,196.80C92.37,198.81 94.03,200.91 95.70,203.30C97.37,205.69 99.03,208.41 100.70,211.30C102.03,213.61 103.37,216.22 104.70,218.80C105.70,220.74 106.70,222.37 107.70,224.80C108.37,226.42 109.03,228.80 109.70,230.80C110.37,232.80 111.03,235.04 111.70,236.80C112.70,239.45 113.70,241.47 114.70,243.80C115.70,246.13 116.70,248.65 117.70,250.80C118.70,252.95 119.70,254.98 120.70,256.80C121.70,258.62 122.70,260.39 123.70,261.80C125.37,264.16 127.03,266.09 128.70,267.80C130.37,269.51 132.03,271.16 133.70,272.30C136.03,273.90 138.37,275.17 140.70,276.10C143.03,277.03 145.37,277.75 147.70,278.30C150.37,278.93 153.03,279.52 155.70,279.80C160.70,280.32 165.70,280.51 170.70,280.80C177.37,281.18 184.03,281.34 190.70,281.80C194.03,282.03 197.37,282.53 200.70,282.80C205.70,283.21 210.70,283.30 215.70,283.80C219.03,284.13 222.37,285.07 225.70,285.60C231.03,286.44 236.37,287.43 241.70,287.80C253.37,288.62 265.03,288.80 276.70,289.30" fill="none" stroke="#f3e21c" stroke-width="1.5" stroke-linejoin="round" stroke-linecap="round"/>
<path d="M28.30,169.50 L30.00,171.30 L32.00,173.00 L34.00,174.00 L36.00,174.50 L39.00,175.00 L42.00,178.00 L46.00,182.00 L49.00,186.00 L53.00,186.50 L56.00,186.00 L59.00,185.60 L61.00,188.00 L65.00,192.00 L69.00,193.00 L73.00,195.00 L76.00,196.50 L80.00,199.00 L85.00,201.00 L90.00,205.00 L95.00,207.00 L100.00,208.00 L105.00,210.00 L110.00,212.00 L115.00,214.00 L120.00,216.50 L124.00,219.00 L127.00,223.00 L130.00,226.00 L135.00,231.00 L140.00,235.00 L145.00,240.00 L148.00,243.00 L152.00,246.00 L155.00,248.00 L159.00,248.50 L163.00,251.00 L167.00,254.00 L171.00,256.50 L176.00,257.00 L180.00,258.00 L184.00,261.00 L188.00,263.50 L191.00,264.50 L195.00,263.50 L200.00,265.00 L204.00,269.00 L208.00,270.50 L212.00,269.50 L216.00,269.80 L221.00,271.00 L224.00,275.00 L227.00,278.50 L231.00,279.00 L234.00,278.50 L237.00,277.00 L240.00,279.50 L243.00,280.50 L247.00,281.50 L251.00,283.00 L255.00,284.50 L258.00,284.50 L261.00,286.00 L264.00,285.50 L267.00,287.00 L271.00,287.50 L276.00,288.00" fill="none" stroke="#767676" stroke-width="1.6" stroke-linejoin="round" stroke-linecap="round"/>
</g>
<line x1="28.00" y1="166.50" x2="28.00" y2="291.00" class="ax"/>
<line x1="27.50" y1="290.50" x2="275.40" y2="290.50" class="ax"/>
<line x1="38.00" y1="289.90" x2="38.00" y2="291.10" class="tg"/>
<line x1="72.25" y1="289.90" x2="72.25" y2="291.10" class="tg"/>
<line x1="106.50" y1="289.90" x2="106.50" y2="291.10" class="tg"/>
<line x1="140.75" y1="289.90" x2="140.75" y2="291.10" class="tg"/>
<line x1="175.00" y1="289.90" x2="175.00" y2="291.10" class="tg"/>
<line x1="209.25" y1="289.90" x2="209.25" y2="291.10" class="tg"/>
<line x1="243.50" y1="289.90" x2="243.50" y2="291.10" class="tg"/>
<text x="6.2" y="10.6" class="ti">(a)</text><text x="21.3" y="10.6" class="ti it">CO1</text><text x="40.8" y="10.6" class="ti">domestic controls</text>
<text x="284" y="10.6" class="ti">(b)</text><text x="296.3" y="10.6" class="ti it">cyt b</text><text x="316.4" y="10.6" class="ti">domestic controls</text>
<text x="6" y="163.0" class="ti">(c)</text><text x="18.6" y="163.0" class="ti it">16S</text><text x="34.6" y="163.0" class="ti">rRNA domestic controls</text>
<text transform="translate(11.9,72.9) rotate(-90)" class="ti yt" text-anchor="middle">Normalized fluorescence (%)</text>
<text transform="translate(11.9,227.5) rotate(-90)" class="ti yt" text-anchor="middle">Normalized fluorescence (%)</text>
<text x="428.2" y="159.8" class="ti yt" text-anchor="middle">Temperature (°C)</text>
<text x="150.2" y="308.2" class="ti yt" text-anchor="middle">Temperature (°C)</text>
<rect x="376.6" y="181.8" width="99.6" height="86.6" fill="#fefef0" stroke="#1e1e1e" stroke-width="1.1"/>
<line x1="383.8" y1="190" x2="396.6" y2="190" stroke="#3a55a5" stroke-width="1.6"/>
<text x="398.5" y="192.9" class="ti">Sheep</text>
<line x1="383.8" y1="200" x2="396.6" y2="200" stroke="#e8232a" stroke-width="1.6"/>
<text x="398.5" y="202.9" class="ti">Cattle</text>
<line x1="383.8" y1="210" x2="396.6" y2="210" stroke="#16884a" stroke-width="1.6"/>
<text x="398.5" y="212.9" class="ti">Camel</text>
<line x1="383.8" y1="220" x2="396.6" y2="220" stroke="#7a2a8e" stroke-width="1.6"/>
<text x="398.5" y="222.9" class="ti">Chicken</text>
<line x1="383.8" y1="230" x2="396.6" y2="230" stroke="#62c5dd" stroke-width="1.6"/>
<text x="398.5" y="232.9" class="ti">Pig</text>
<line x1="383.8" y1="240" x2="396.6" y2="240" stroke="#f07d24" stroke-width="1.6"/>
<text x="398.5" y="242.9" class="ti">Goat</text>
<line x1="383.8" y1="250" x2="396.6" y2="250" stroke="#f3e21c" stroke-width="1.6"/>
<text x="398.5" y="252.9" class="ti">Rabbit</text>
<line x1="383.8" y1="260" x2="396.6" y2="260" stroke="#767676" stroke-width="1.6"/>
<text x="398.5" y="262.9" class="ti">No-template control</text>
</svg>
</body></html>
